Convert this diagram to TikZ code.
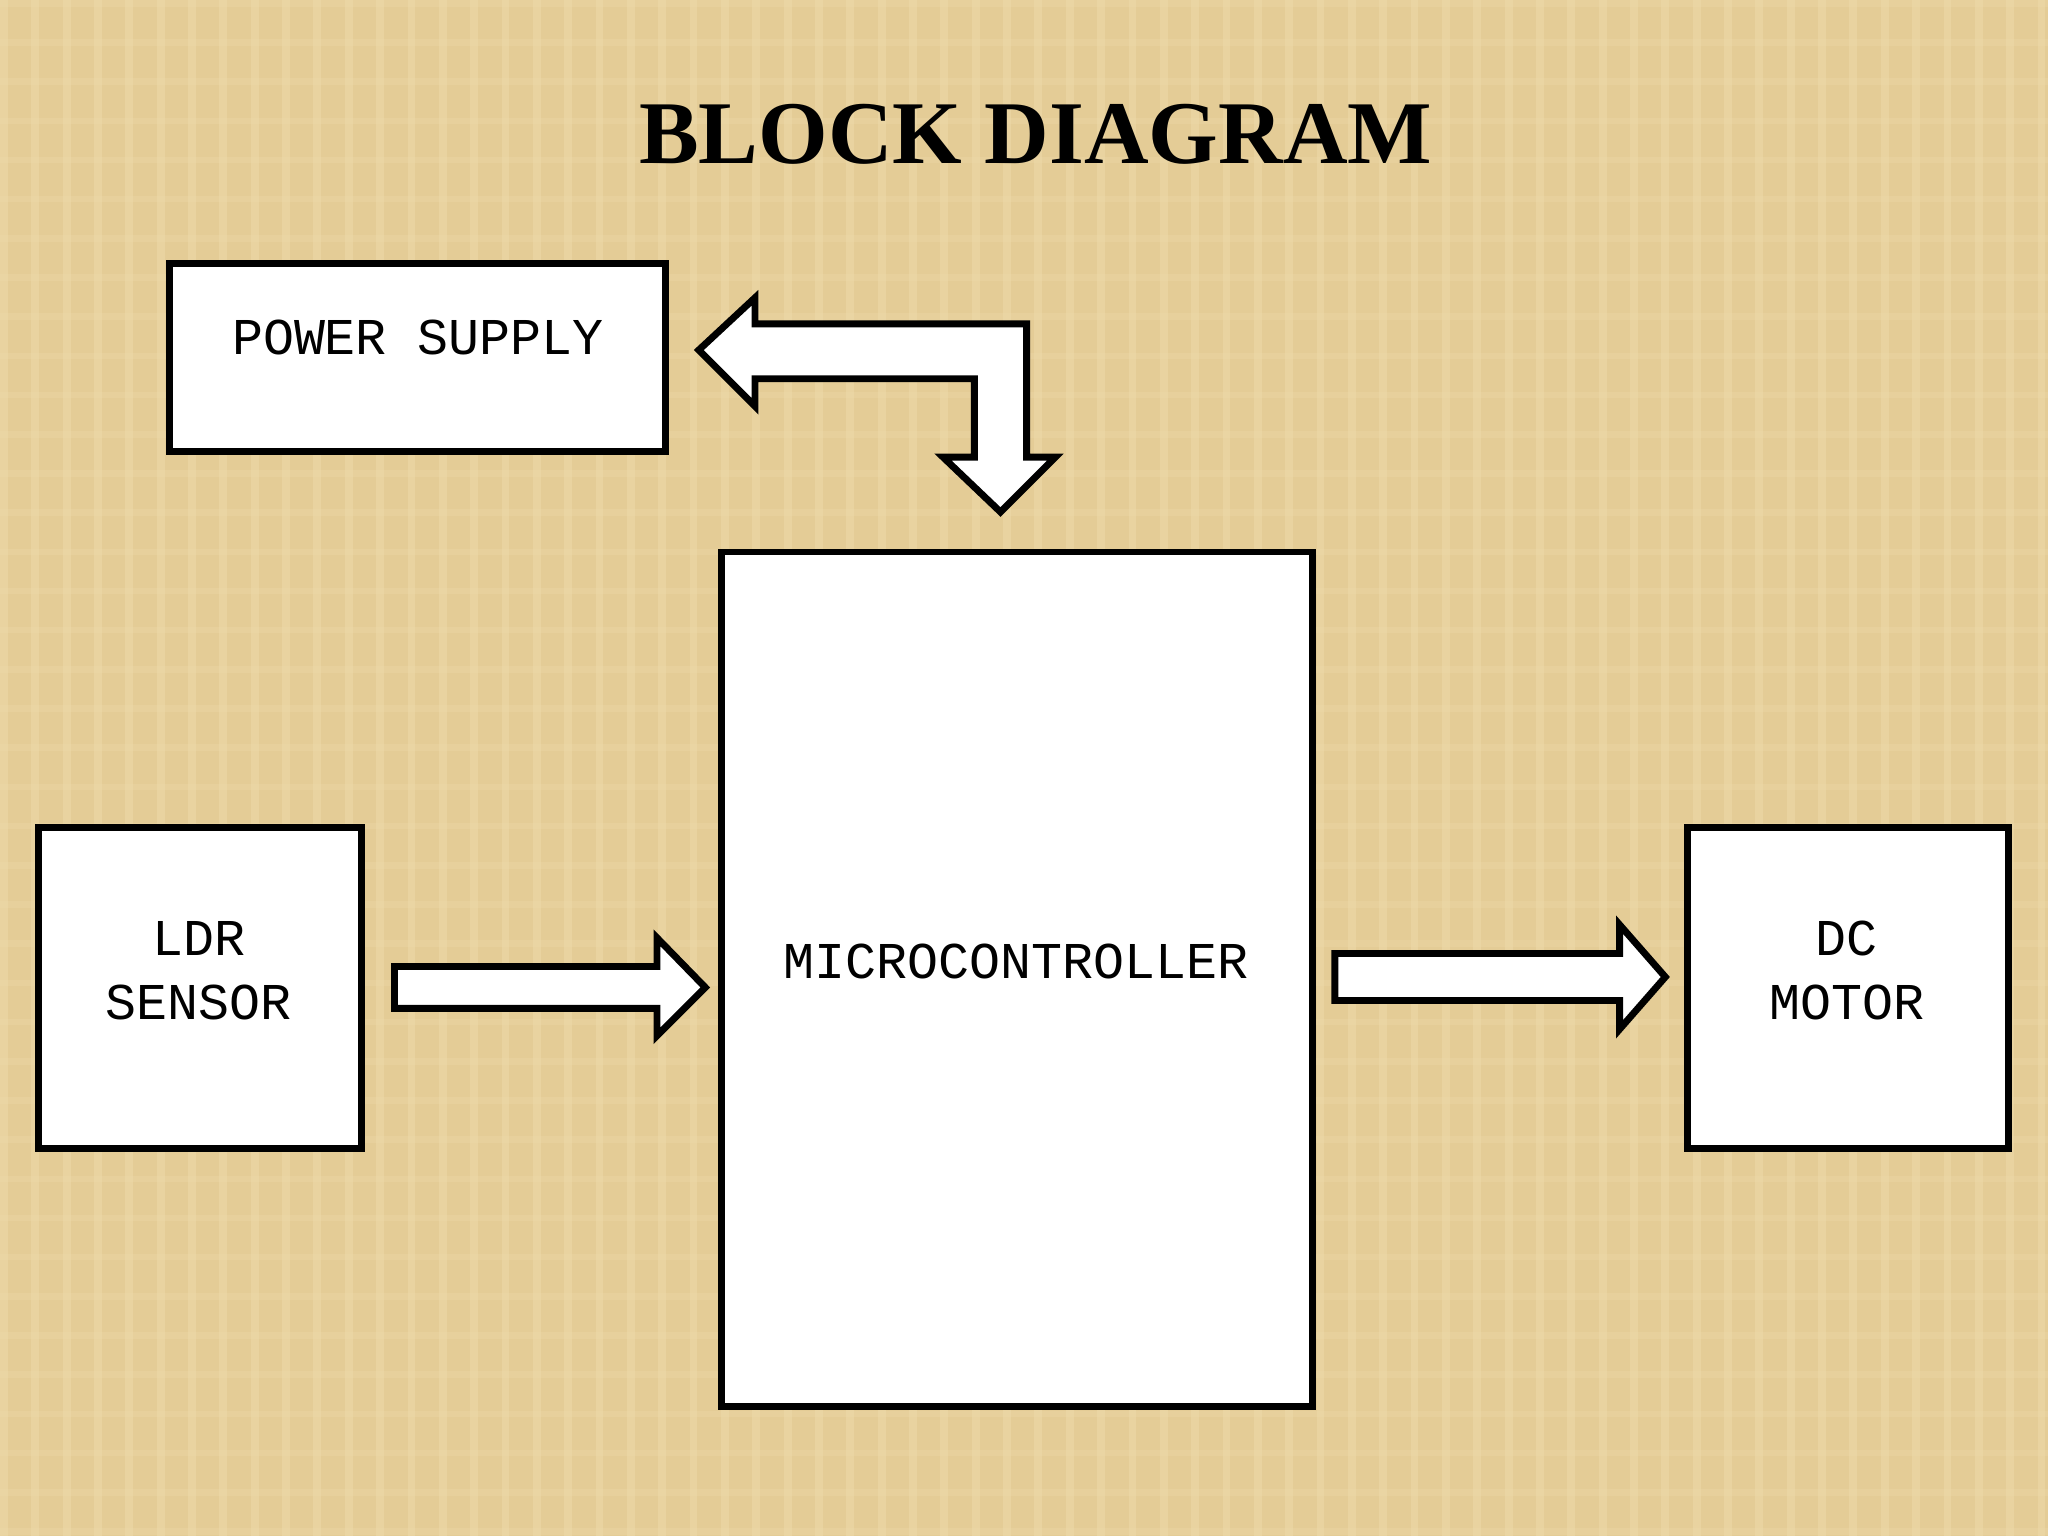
\documentclass[tikz,border=0pt]{standalone}
\usepackage{fontspec}
\setmainfont{Liberation Serif}
\newfontfamily\boxfont{Liberation Mono}
\definecolor{bg}{RGB}{228,204,150}
\definecolor{bgl}{RGB}{238,218,170}
\begin{document}
\begin{tikzpicture}[x=0.02cm,y=-0.02cm,
  blk/.style={draw=black,line width=3pt,fill=white,inner sep=0pt},
  lbl/.style={font=\boxfont\fontsize{22.5}{28}\selectfont,align=center},
  barrow/.style={draw=black,line width=3pt,fill=white,line join=miter}]
\fill[bg] (0,0) rectangle (1568,1176);
\useasboundingbox (0,0) rectangle (1568,1176);
\foreach \i in {0,24,...,1568}{\fill[bgl,opacity=0.5] (\i,0) rectangle ++(6,1176);}
\foreach \j in {0,30,...,1176}{\fill[bgl,opacity=0.35] (0,\j) rectangle ++(1568,5);}
\node[font=\bfseries\fontsize{39}{46}\selectfont] (title) at (793,103) {BLOCK DIAGRAM};
\node[blk,minimum width=380*0.02cm,minimum height=144*0.02cm,anchor=north west] (ps) at (127,199) {};
\node[lbl] (pst) at (320,258) {POWER SUPPLY};
\node[blk,minimum width=452*0.02cm,minimum height=654*0.02cm,anchor=north west] (mc) at (550,420) {};
\node[lbl] (mct) at (778,736) {MICROCONTROLLER};
\node[blk,minimum width=247*0.02cm,minimum height=246*0.02cm,anchor=north west] (ldr) at (27,631) {};
\node[lbl] (ldrt) at (152,743) {LDR\\SENSOR};
\node[blk,minimum width=246*0.02cm,minimum height=246*0.02cm,anchor=north west] (dc) at (1289,631) {};
\node[lbl] (dct) at (1414,743) {DC\\MOTOR};
\draw[barrow] (302,740) -- (503,740) -- (503,718) -- (540,756) -- (503,793) -- (503,772) -- (302,772) -- cycle;
\draw[barrow] (1022,730) -- (1240,730) -- (1240,708) -- (1275,748) -- (1240,788) -- (1240,766) -- (1022,766) -- cycle;
\draw[barrow] (535,268) -- (578,228) -- (578,248) -- (786,248) -- (786,350) -- (808,350) -- (766,392) -- (722,350) -- (746,350) -- (746,290) -- (578,290) -- (578,311) -- cycle;
\end{tikzpicture}
\end{document}
